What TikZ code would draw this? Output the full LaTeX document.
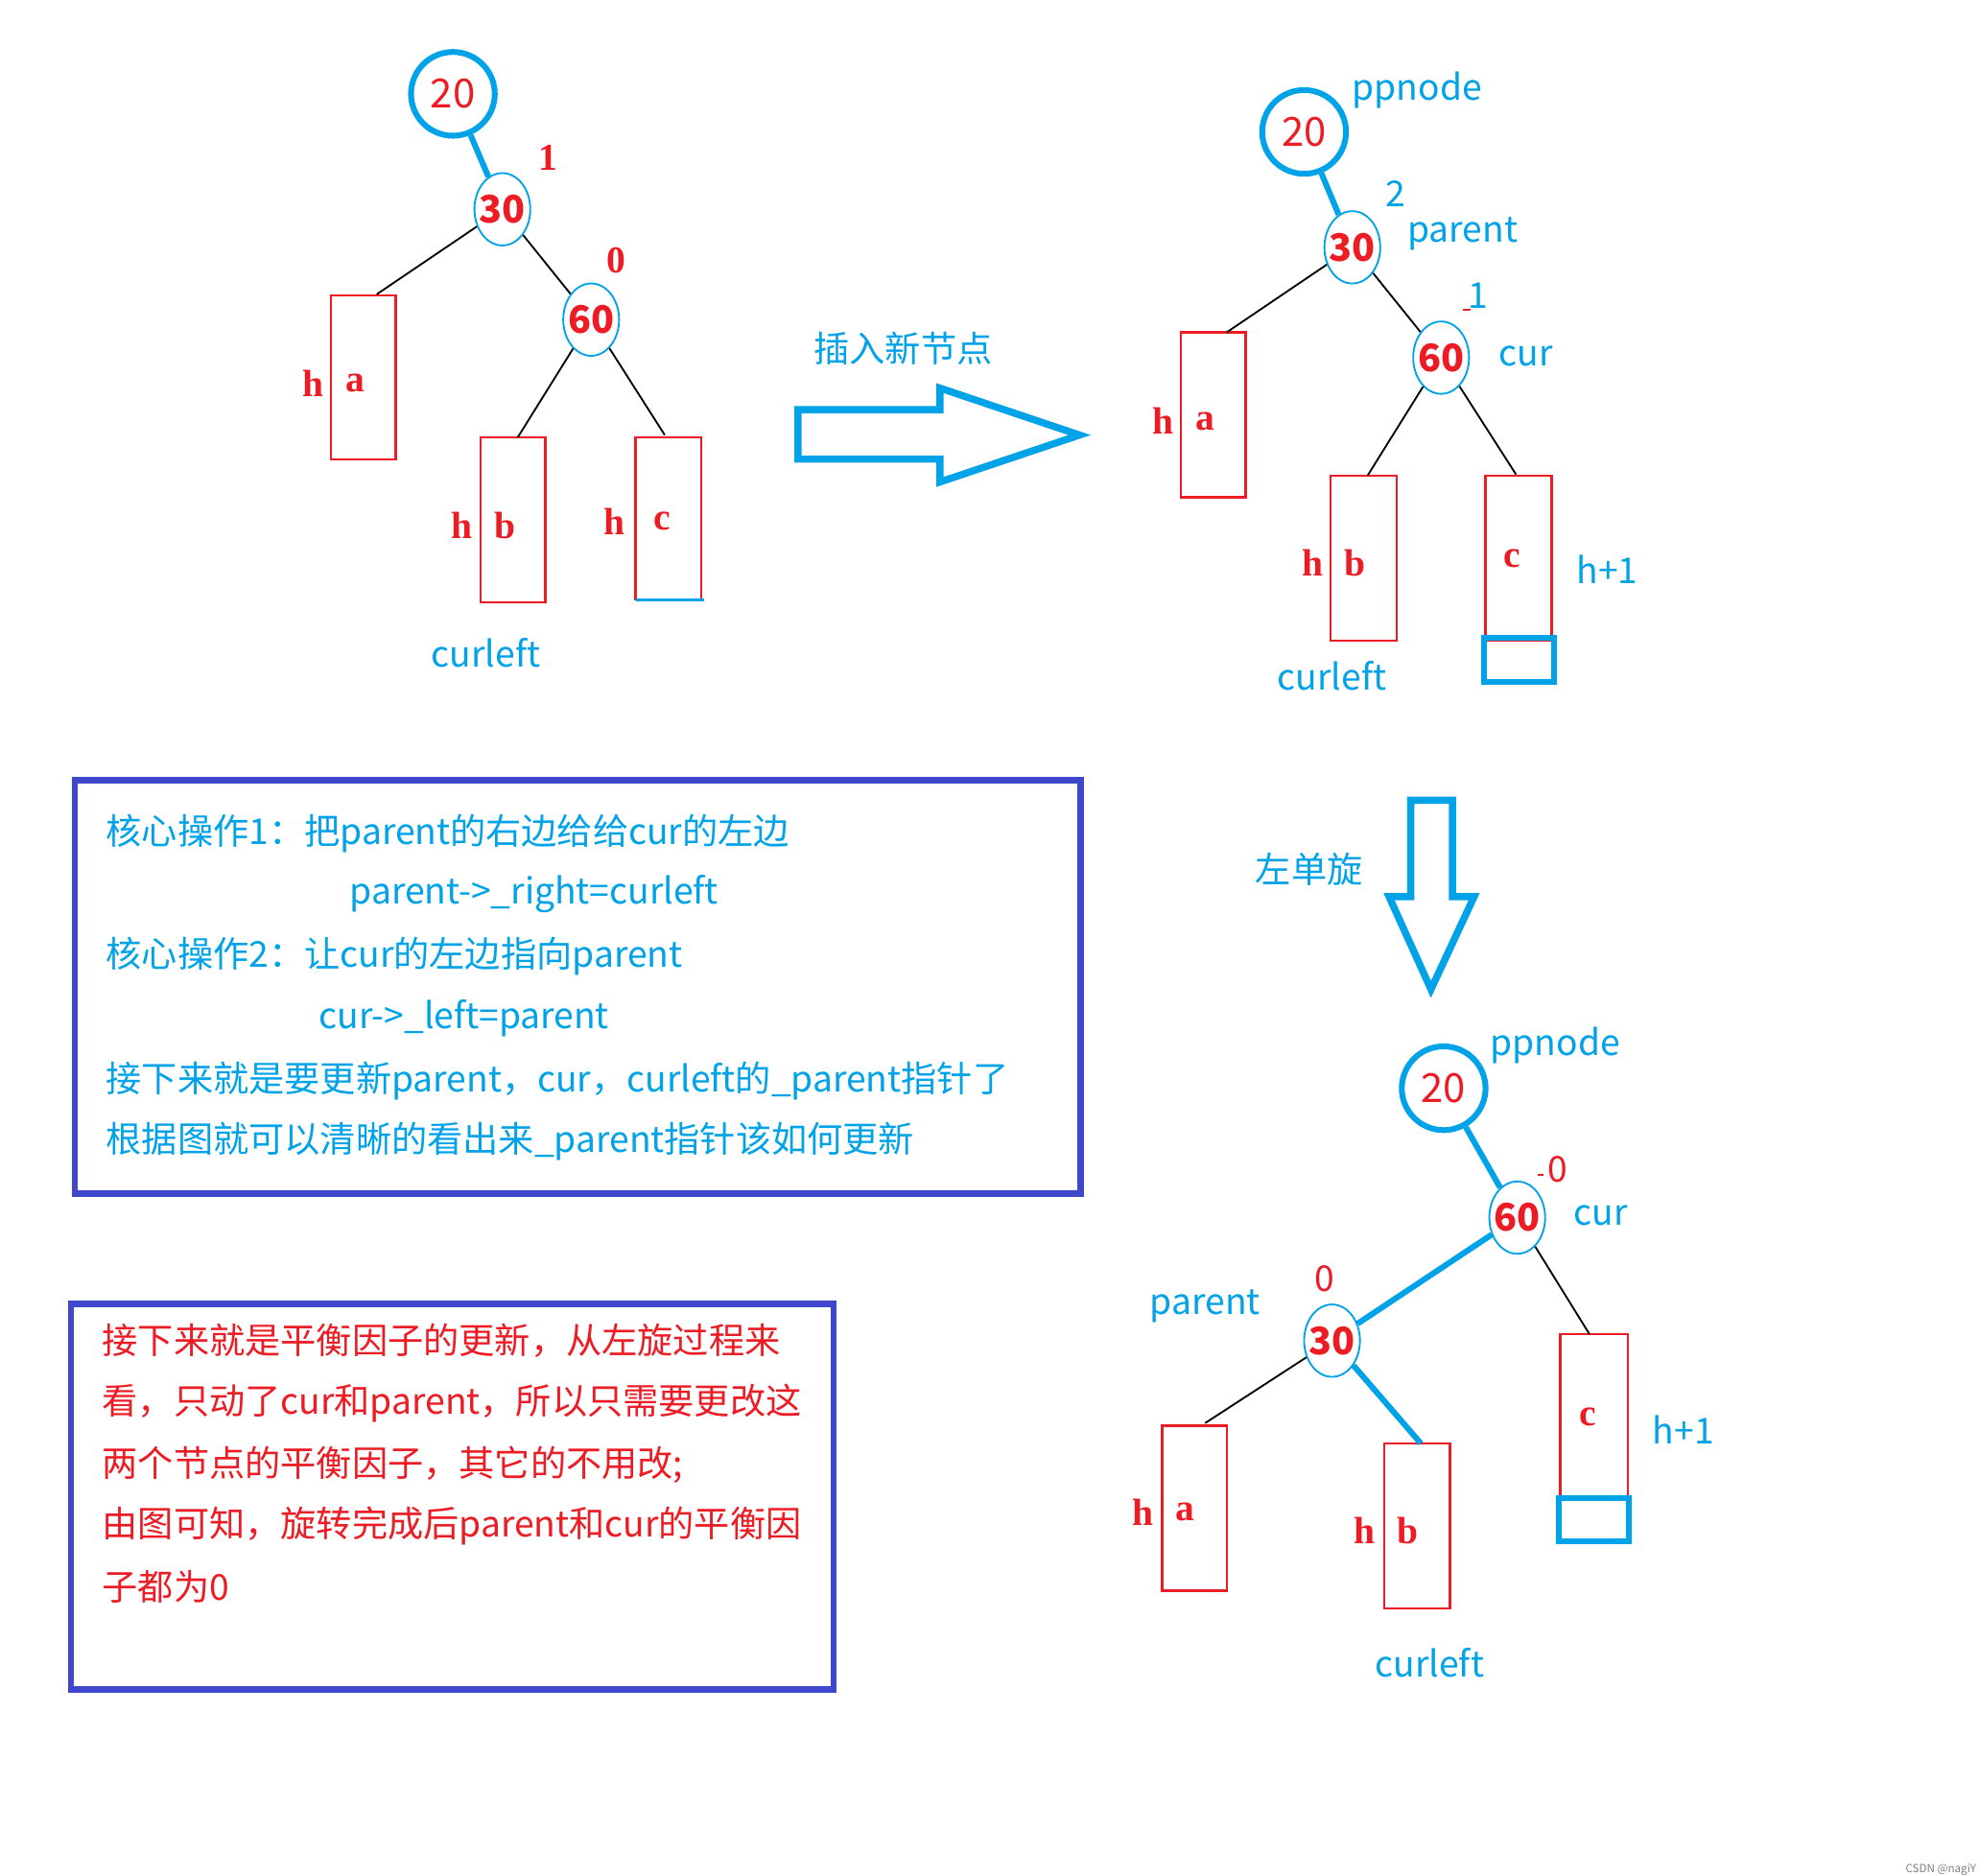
\documentclass[tikz,border=0pt]{standalone}
\usepackage{fontspec}
\setmainfont{Noto Sans CJK SC}
\newfontfamily\serifb{Liberation Serif}
\usetikzlibrary{shapes.geometric}
\definecolor{myblue}{RGB}{0,162,232}
\definecolor{myred}{RGB}{237,28,36}
\definecolor{myind}{RGB}{63,72,204}
\tikzset{
 big/.style={circle,draw=myblue,line width=1.3pt,minimum size=0.66cm,inner sep=0pt,text=myred,font=\fontsize{9}{9}\selectfont},
 sm/.style={ellipse,draw=myblue,line width=0.4pt,minimum width=0.44cm,minimum height=0.57cm,inner sep=-1.5pt,text=myred,font=\fontsize{8.5}{8.5}\selectfont\bfseries},
 box/.style={draw=myred,line width=0.5pt},
 nb/.style={draw=myblue,line width=1.3pt},
 lt/.style={text=myred,font=\serifb\bfseries\fontsize{8.5}{8.5}\selectfont,inner sep=0pt},
 bl/.style={text=myblue,font=\fontsize{8}{8}\selectfont,inner sep=0pt},
 rl/.style={text=myred,font=\fontsize{8}{8}\selectfont,inner sep=0pt},
 thin/.style={black,line width=0.4pt},
 thick/.style={myblue,line width=1.3pt},
 para/.style={anchor=west,inner sep=0pt,font=\fontsize{8}{8}\selectfont},
}
\begin{document}
\begin{tikzpicture}[x=0.01cm,y=-0.01cm]
\useasboundingbox[fill=white] (0,0) rectangle (1560,1479);
% ---- tree 1
\node[big] (a20) at (357,74) {20};
\node[sm] (a30) at (396,165) {30};
\node[sm] (a60) at (466,252) {60};
\draw[thick] (a20) -- (a30);
\node[lt] (a1) at (432,124) {1};
\node[lt] (a0) at (486,205) {0};
\draw[box] (261,233) rectangle (312,362);
\draw[box] (379,345) rectangle (430,475);
\draw[box] (501,473) -- (501,345) -- (553,345) -- (553,473);
\draw[myblue,line width=0.8pt] (501,473) -- (555,473);
\coordinate (aa) at (297,232); \coordinate (ab) at (408,345); \coordinate (ac) at (524,343);
\draw[thin] (a30) -- (aa); \draw[thin] (a30) -- (a60);
\draw[thin] (a60) -- (ab); \draw[thin] (a60) -- (ac);
\node[lt] at (247,302) {h}; \node[lt] at (280,302) {a};
\node[lt] at (364,414) {h}; \node[lt] at (398,414) {b};
\node[lt] at (484,411) {h}; \node[lt] at (522,411) {c};
\node[bl] at (383,515) {curleft};
% ---- arrow right
\draw[myblue,line width=1.6pt] (629,323) -- (741,323) -- (741,306) -- (851,343) -- (741,380) -- (741,362) -- (629,362) -- cycle;
\node[bl] at (712,275) {插入新节点};
% ---- tree 2
\node[big] (b20) at (1028,104) {20};
\node[sm] (b30) at (1066,195) {30};
\node[sm] (b60) at (1136,282) {60};
\draw[thick] (b20) -- (b30);
\node[bl] at (1117,71) {ppnode};
\node[bl] at (1100,153) {2};
\node[bl] at (1153,184) {parent};
\node[bl] at (1165,233) {1};
\draw[myred,line width=0.4pt] (1153,244) -- (1159,244);
\node[bl] at (1203,281) {cur};
\draw[box] (931,262) rectangle (982,392);
\draw[box] (1049,375) rectangle (1101,505);
\draw[box] (1171,375) rectangle (1223,505);
\draw[nb] (1170,503) rectangle (1225,538);
\coordinate (ba) at (967,262); \coordinate (bb) at (1078,375); \coordinate (bc) at (1195,374);
\draw[thin] (b30) -- (ba); \draw[thin] (b30) -- (b60);
\draw[thin] (b60) -- (bb); \draw[thin] (b60) -- (bc);
\node[lt] at (917,332) {h}; \node[lt] at (950,332) {a};
\node[lt] at (1035,444) {h}; \node[lt] at (1068,444) {b};
\node[lt] at (1192,440) {c};
\node[bl] at (1267,449) {h+1};
\node[bl] at (1050,533) {curleft};
% ---- arrow down
\draw[myblue,line width=1.6pt] (1112,631) -- (1145,631) -- (1145,707) -- (1162,707) -- (1128,780) -- (1095,707) -- (1112,707) -- cycle;
\node[bl] at (1032,685) {左单旋};
% ---- tree 3
\node[big] (c20) at (1138,858) {20};
\node[sm] (c60) at (1196,960) {60};
\node[sm] (c30) at (1050,1057) {30};
\draw[thick] (c20) -- (c60);
\draw[thick] (c60) -- (c30);
\node[bl] at (1226,824) {ppnode};
\node[rl] at (1228,922) {0};
\draw[myred,line width=0.4pt] (1212,926) -- (1217,926);
\node[bl] at (1262,958) {cur};
\node[rl] at (1044,1008) {0};
\node[bl] at (950,1030) {parent};
\draw[box] (916,1124) rectangle (967,1254);
\draw[box] (1091,1138) rectangle (1143,1268);
\draw[box] (1230,1052) rectangle (1283,1182);
\draw[nb] (1229,1181) rectangle (1284,1215);
\coordinate (ca) at (950,1122); \coordinate (cb) at (1120,1138); \coordinate (cc) at (1253,1052);
\draw[thin] (c30) -- (ca); \draw[thick] (c30) -- (cb); \draw[thin] (c60) -- (cc);
\node[lt] at (901,1192) {h}; \node[lt] at (934,1192) {a};
\node[lt] at (1076,1207) {h}; \node[lt] at (1110,1207) {b};
\node[lt] at (1252,1117) {c};
\node[bl] at (1327,1127) {h+1};
\node[bl] at (1127,1311) {curleft};
% ---- text box 1
\draw[myind,line width=1.4pt] (59,615) rectangle (852,941);
\node[para,text=myblue] at (83,657) {核心操作1：把parent的右边给给cur的左边};
\node[para,text=myblue] at (275,705) {parent->\_right=curleft};
\node[para,text=myblue] at (83,754) {核心操作2：让cur的左边指向parent};
\node[para,text=myblue] at (251,803) {cur->\_left=parent};
\node[para,text=myblue] at (83,852) {接下来就是要更新parent，cur，curleft的\_parent指针了};
\node[para,text=myblue] at (83,900) {根据图就可以清晰的看出来\_parent指针该如何更新};
% ---- text box 2
\draw[myind,line width=1.4pt] (56,1028) rectangle (657,1332);
\node[para,text=myred] at (80,1057) {接下来就是平衡因子的更新，从左旋过程来};
\node[para,text=myred] at (80,1106) {看，只动了cur和parent，所以只需要更改这};
\node[para,text=myred] at (80,1155) {两个节点的平衡因子，其它的不用改;};
\node[para,text=myred] at (80,1203) {由图可知，旋转完成后parent和cur的平衡因};
\node[para,text=myred] at (80,1251) {子都为0};
\node[text=gray,font=\fontsize{2.5}{2.5}\selectfont,inner sep=0pt] at (1530,1474) {CSDN @nagiY};
\end{tikzpicture}
\end{document}
